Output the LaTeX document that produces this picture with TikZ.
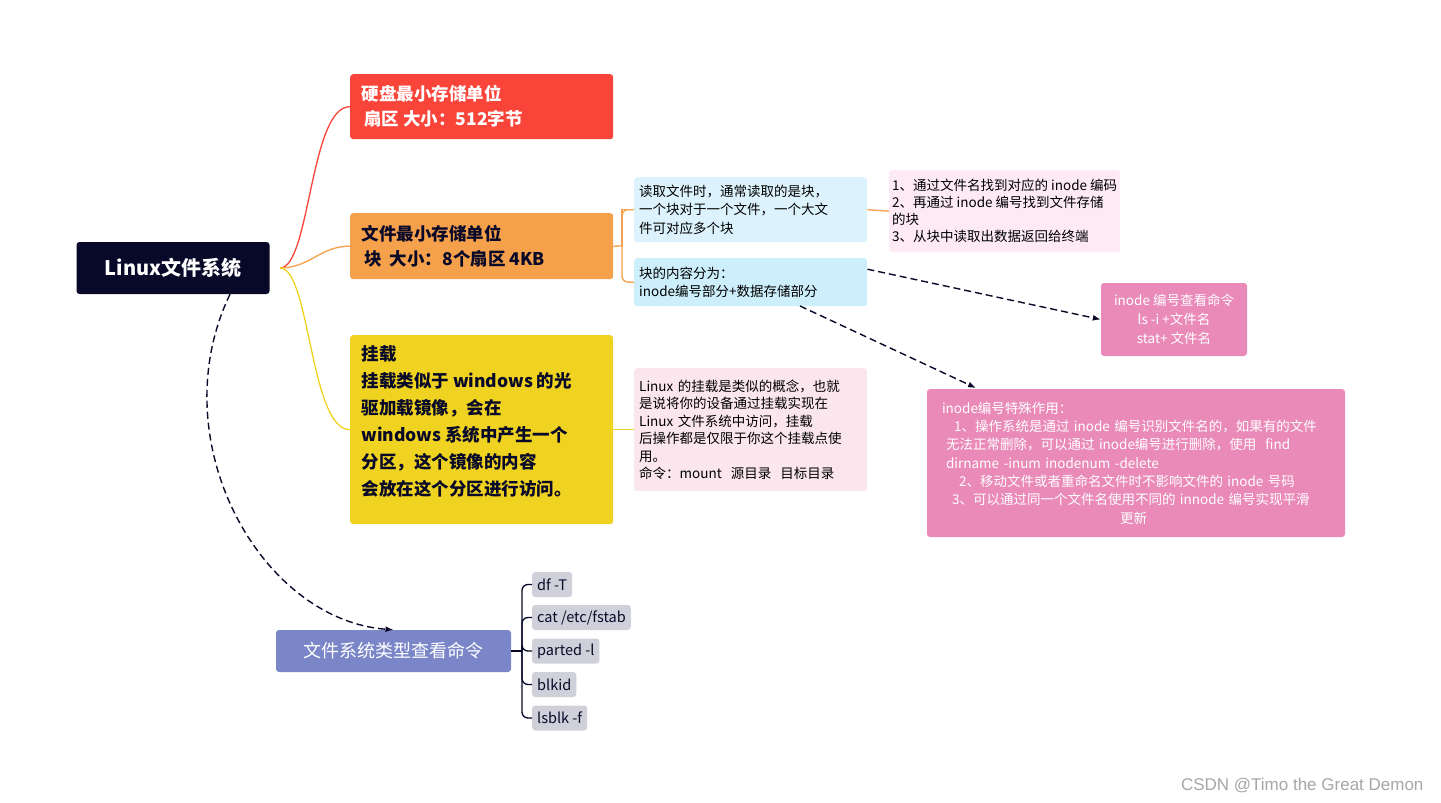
\documentclass[tikz,border=0pt]{standalone}
\usepackage{fontspec}
\setmainfont{Noto Sans CJK SC}
\usetikzlibrary{arrows.meta,positioning}
\definecolor{fsnavy}{RGB}{8, 8, 40}
\definecolor{fsred}{RGB}{249, 68, 57}
\definecolor{fsorange}{RGB}{245, 160, 74}
\definecolor{fsyellow}{RGB}{240, 210, 32}
\definecolor{fsblueA}{RGB}{220, 242, 252}
\definecolor{fsblueB}{RGB}{205, 238, 251}
\definecolor{fspinkA}{RGB}{253, 234, 245}
\definecolor{fspinkB}{RGB}{251, 230, 238}
\definecolor{fsrose}{RGB}{233, 138, 185}
\definecolor{fsviolet}{RGB}{123, 134, 200}
\definecolor{fsgrey}{RGB}{208, 208, 218}
\tikzset{
  topic/.style={rounded corners=3pt, anchor=north west, inner sep=0pt},
  note/.style={rounded corners=3pt, anchor=north west, inner xsep=5pt, inner ysep=4pt, font=\fontsize{13.5}{18.5}\selectfont, align=left},
  leaf/.style={rounded corners=3pt, fill=fsgrey, inner sep=5pt, font=\fontsize{14.5}{15}\selectfont, text=fsnavy, anchor=west, minimum height=25pt},
  branch/.style={line width=1.3pt},
  link/.style={dash pattern=on 7pt off 4pt, line width=1.4pt, fsnavy, -{Latex[length=8pt]}}
}
\begin{document}
\begin{tikzpicture}[x=1pt, y=-1pt]
  \useasboundingbox (0,0) rectangle (1441,803);
  % root
  \node[fill=fsnavy, rounded corners=3pt, minimum width=193pt, minimum height=52pt, text=white,
        font=\fontsize{20}{24}\selectfont\bfseries] (root) at (173,268) {Linux文件系统};
  % main topics
  \node[topic, fill=fsred, minimum width=263pt, minimum height=65pt] (sector) at (350,74) {};
  \node[anchor=west, font=\fontsize{17.5}{25}\selectfont\bfseries, text=white, align=left] at (358,106) {硬盘最小存储单位\\ \,扇区 大小：512字节};
  \node[topic, fill=fsorange, minimum width=263pt, minimum height=66pt] (block) at (350,213) {};
  \node[anchor=west, font=\fontsize{17.5}{25}\selectfont\bfseries, text=fsnavy, align=left] at (358,246) {文件最小存储单位\\ \,块\ \ 大小：8个扇区 4KB};
  \node[topic, fill=fsyellow, minimum width=263pt, minimum height=189pt] (mount) at (350,335) {};
  \node[anchor=north west, font=\fontsize{17.5}{27}\selectfont\bfseries, text=fsnavy, align=left] at (358,342)
    {挂载\\挂载类似于 windows 的光\\驱加载镜像，会在\\windows 系统中产生一个\\分区，这个镜像的内容\\会放在这个分区进行访问。};
  % notes
  \node[note, fill=fsblueA, text width=223pt, minimum height=65pt] (readnote) at (634,177)
    {读取文件时，通常读取的是块，\\一个块对于一个文件，一个大文\\件可对应多个块};
  \node[note, fill=fsblueB, text width=223pt, minimum height=48pt] (partnote) at (634,258)
    {块的内容分为：\\inode编号部分+数据存储部分};
  \node[note, fill=fspinkA, minimum width=216pt, minimum height=82pt, inner xsep=3pt, inner ysep=3pt,
        font=\fontsize{13.5}{17}\selectfont] (steps) at (889,170)
    {1、通过文件名找到对应的 inode 编码\\2、再通过 inode 编号找到文件存储\\的块\\3、从块中读取出数据返回给终端};
  \node[note, fill=fspinkB, text width=223pt, minimum height=123pt, font=\fontsize{13.5}{17.5}\selectfont] (mountnote) at (634,368)
    {Linux 的挂载是类似的概念，也就\\是说将你的设备通过挂载实现在\\Linux 文件系统中访问，挂载\\后操作都是仅限于你这个挂载点使\\用。\\命令：mount\ \ 源目录\ \ 目标目录};
  \node[fill=fsrose, rounded corners=3pt, minimum width=146pt, minimum height=73pt, text=white, align=center,
        font=\fontsize{13.5}{19}\selectfont] (inodecmd) at (1174,319.5)
    {inode 编号查看命令\\ls -i +文件名\\stat+ 文件名};
  \node[fill=fsrose, rounded corners=3pt, text width=408pt, minimum height=148pt, text=white, align=left,
        inner xsep=5pt, font=\fontsize{13.5}{18.3}\selectfont] (inodeuse) at (1136,463)
    {\hspace*{10pt}inode编号特殊作用：\\
     \hspace*{22pt}1、操作系统是通过 inode 编号识别文件名的，如果有的文件\\
     \hspace*{14pt}无法正常删除，可以通过 inode编号进行删除，使用\ \ find\\
     \hspace*{14pt}dirname -inum inodenum -delete\\
     \hspace*{27pt}2、移动文件或者重命名文件时不影响文件的 inode 号码\\
     \hspace*{20pt}3、可以通过同一个文件名使用不同的 innode 编号实现平滑\\
     \hspace*{188pt}更新};
  % file system type commands
  \node[fill=fsviolet, rounded corners=3pt, minimum width=235pt, minimum height=42pt, text=white,
        font=\fontsize{18}{20}\selectfont] (fscmd) at (393.5,651) {文件系统类型查看命令};
  \node[leaf] (dfT) at (532,584.5) {df -T};
  \node[leaf] (fstab) at (532,617.5) {cat /etc/fstab};
  \node[leaf] (parted) at (532,651) {parted -l};
  \node[leaf] (blkid) at (532,684.5) {blkid};
  \node[leaf] (lsblk) at (532,718) {lsblk -f};
  % branches
  \coordinate (hub) at (280,268);
  \draw[fsred, branch] (hub) .. controls (310,268) and (310,106) .. (sector.west);
  \draw[fsorange, branch] (hub) .. controls (310,268) and (320,246) .. (block.west);
  \draw[fsyellow, branch] (hub) .. controls (310,268) and (310,430) .. (mount.west);
  \draw[fsorange, branch] (block.east) -- (622,246);
  \draw[fsorange, branch, rounded corners=6pt] (readnote.west) -| (622,282) -- (partnote.west);
  \draw[fsorange, branch] (622,246) |- (readnote.west);
  \draw[fsorange, branch] (readnote.east) -- (steps.west);
  \draw[fsyellow, branch] (mount.east) -- (mountnote.west);
  \draw[fsnavy, line width=2.5pt] (fscmd.east) -- (522,651);
  \foreach \leafname in {dfT,fstab,parted,blkid,lsblk}
    \draw[fsnavy, branch, rounded corners=6pt] (522,651) |- (\leafname.west);
  % dashed links
  \draw[link] (partnote.east) ++(0,-13) -- (inodecmd.west);
  \draw[link] (800,306) -- (976,388);
  \draw[link] (root.south) ++(57,0) .. controls (160,440) and (260,620) .. (fscmd.north);
  % watermark
  \node[text=gray!70, font=\fontsize{17}{18}\selectfont\fontspec{Liberation Sans}, anchor=east] (mark) at (1427,786) {CSDN @Timo the Great Demon};
\end{tikzpicture}
\end{document}
